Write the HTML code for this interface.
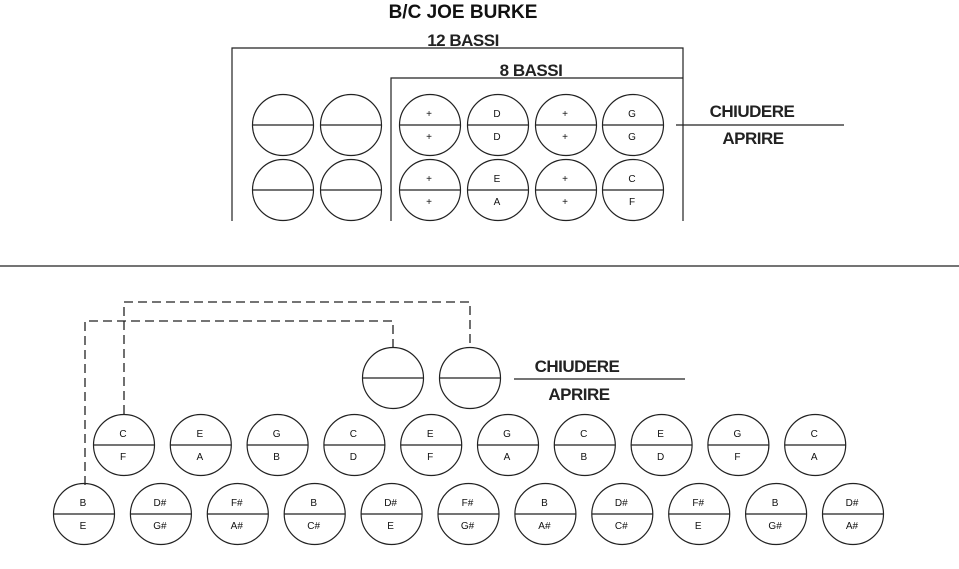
<!DOCTYPE html>
<html><head><meta charset="utf-8"><style>
body{margin:0;background:#fff}
svg{display:block}
.t{font-family:"Liberation Sans",sans-serif;font-size:10px;fill:#111;text-anchor:middle}
.h{font-family:"Liberation Sans Narrow","Liberation Sans",sans-serif;font-weight:bold;font-size:17px;fill:#222;text-anchor:middle;letter-spacing:-0.5px}
</style></head><body>
<svg width="959" height="569" viewBox="0 0 959 569" xmlns="http://www.w3.org/2000/svg">
<g fill="none" stroke="#222" stroke-width="1.2">
<text x="463" y="18" style="font-family:'Liberation Sans',sans-serif;font-weight:bold;font-size:19px;fill:#111;stroke:none;text-anchor:middle">B/C JOE BURKE</text>
<polyline points="232,221 232,48 683,48 683,221"/>
<polyline points="391,221 391,78 683,78"/>
<line x1="676" y1="125" x2="844" y2="125"/>
<line x1="0" y1="266" x2="959" y2="266"/>
<line x1="514" y1="379" x2="685" y2="379"/>
<g stroke-dasharray="9,5" stroke-width="1.3">
<polyline points="124,414 124,302 470,302 470,348"/>
<polyline points="85,485 85,321 393,321 393,348"/>
</g>
</g>
<text class="h" x="463" y="46">12 BASSI</text>
<text class="h" x="531" y="76">8 BASSI</text>
<text class="h" x="752" y="117">CHIUDERE</text>
<text class="h" x="753" y="144">APRIRE</text>
<text class="h" x="577" y="372">CHIUDERE</text>
<text class="h" x="579" y="400">APRIRE</text>
<script>
(function(){
var svg=document.querySelector('svg'),ns='http://www.w3.org/2000/svg';
function c(x,y,a,b){
 var e=document.createElementNS(ns,'ellipse');e.setAttribute('cx',x);e.setAttribute('cy',y);e.setAttribute('rx',30.5);e.setAttribute('ry',30.5);
 e.setAttribute('fill','none');e.setAttribute('stroke','#222');e.setAttribute('stroke-width','1.2');svg.appendChild(e);
 var l=document.createElementNS(ns,'line');l.setAttribute('x1',x-30.5);l.setAttribute('x2',x+30.5);l.setAttribute('y1',y);l.setAttribute('y2',y);
 l.setAttribute('stroke','#222');l.setAttribute('stroke-width','1.2');svg.appendChild(l);
 [[a,y-8],[b,y+15]].forEach(function(p){if(!p[0])return;var t=document.createElementNS(ns,'text');t.setAttribute('class','t');t.setAttribute('x',x-1);t.setAttribute('y',p[1]);t.textContent=p[0];svg.appendChild(t);});
}
[283,351].forEach(function(x){c(x,125);c(x,190);});
var tp=[['+','+'],['D','D'],['+','+'],['G','G']],bt=[['+','+'],['E','A'],['+','+'],['C','F']];
[430,498,566,633].forEach(function(x,i){c(x,125,tp[i][0],tp[i][1]);c(x,190,bt[i][0],bt[i][1]);});
c(393,378);c(470,378);
var m=[['C','F'],['E','A'],['G','B'],['C','D'],['E','F'],['G','A'],['C','B'],['E','D'],['G','F'],['C','A']];
m.forEach(function(p,i){c(124+i*76.8,445,p[0],p[1]);});
var r=[['B','E'],['D#','G#'],['F#','A#'],['B','C#'],['D#','E'],['F#','G#'],['B','A#'],['D#','C#'],['F#','E'],['B','G#'],['D#','A#']];
r.forEach(function(p,i){c(84+i*76.9,514,p[0],p[1]);});
})();
</script>
</svg>
</body></html>
